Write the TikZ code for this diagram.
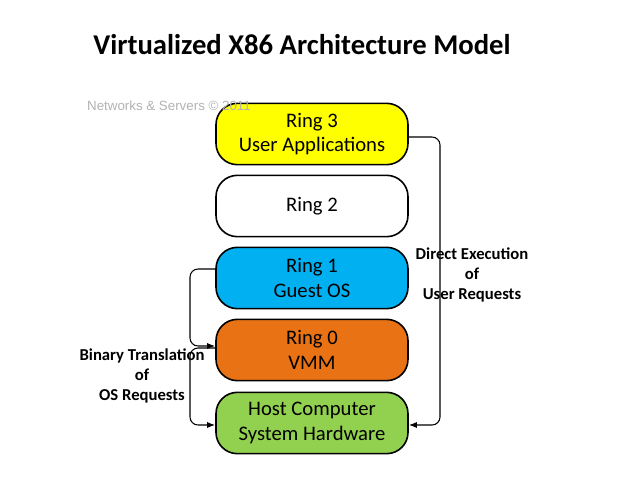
\documentclass[tikz,border=0pt]{standalone}
\usepackage{fontspec}
\setmainfont{Carlito}
\newfontfamily\marksans{Liberation Sans}
\usetikzlibrary{arrows.meta}
\definecolor{ringyellow}{RGB}{255,255,0}
\definecolor{ringblue}{RGB}{0,176,240}
\definecolor{ringorange}{RGB}{232,114,20}
\definecolor{ringgreen}{RGB}{146,208,80}
\begin{document}
\begin{tikzpicture}[x=0.75pt,y=-0.75pt,
    ring/.style = {draw, very thick, rounded corners=16pt, minimum width=144pt,
                minimum height=46pt, align=center, font=\fontsize{15.5}{18.5}\selectfont},
    link/.style = {thick, rounded corners=6pt, -{Latex[length=6pt]}},
    note/.style = {align=center, font=\bfseries\fontsize{12.5}{15}\selectfont}
                    ]
    \useasboundingbox (0,0) rectangle (638,478);
    \node[font=\bfseries\fontsize{21.5}{26}\selectfont] at (302,45) (title) {Virtualized X86 Architecture Model};
    \node[ring, fill=ringyellow] at (312,134) (r3) {Ring 3\\User Applications};
    \node[ring, fill=white] at (312,206) (r2) {Ring 2};
    \node[ring, fill=ringblue] at (312,278) (r1) {Ring 1\\Guest OS};
    \node[ring, fill=ringorange] at (312,350) (r0) {Ring 0\\VMM};
    \node[ring, fill=ringgreen] at (312,423) (hw) {Host Computer\\System Hardware};
    \node[text=gray!60, font=\marksans\fontsize{10}{12}\selectfont] at (169,106) (mark) {Networks \& Servers © 2011};
    \node[note] at (472,275) (direct) {Direct Execution\\of\\User Requests};
    \node[note] at (142,376) (binary) {Binary Translation\\of\\OS Requests};
    % connectors
    \draw[link] (r1.west |- 0,269) -| (190,346) -- (r0.west |- 0,346);
    \draw[link] (r0.west |- 0,348) -| (190,425) -- (hw.west |- 0,425);
    \draw[link] (r3.east |- 0,137) -| (440,425) -- (hw.east |- 0,425);
\end{tikzpicture}
\end{document}
